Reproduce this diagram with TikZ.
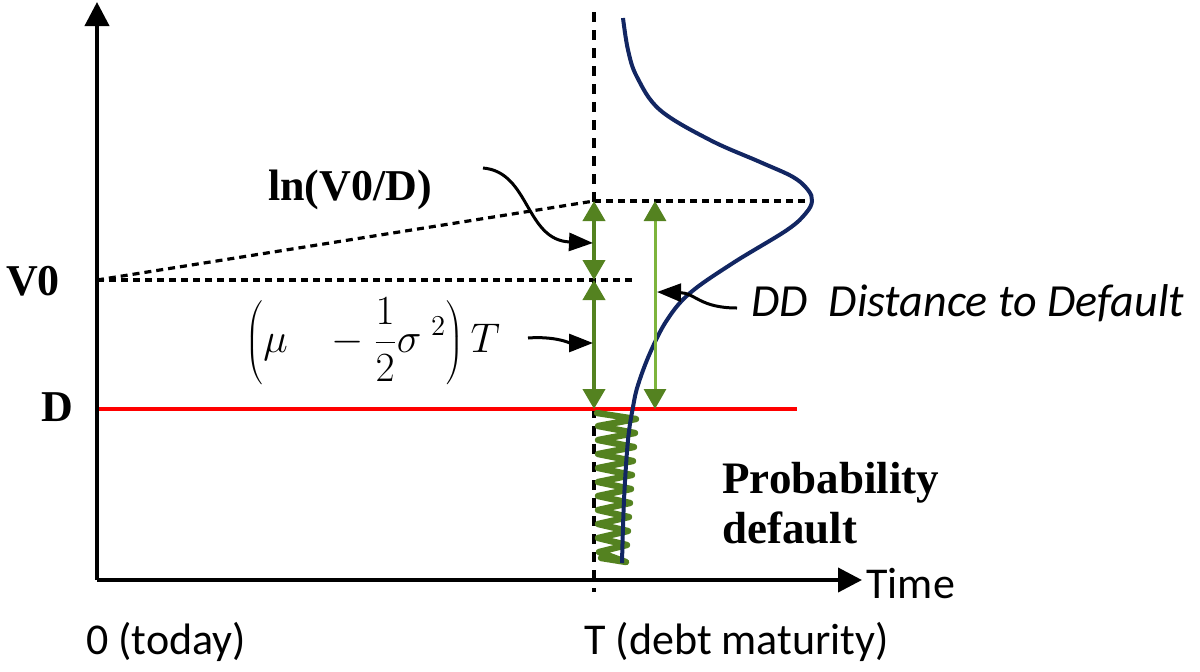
\documentclass[tikz,border=0pt]{standalone}
\usepackage{fontspec}
\setmainfont{Liberation Serif}
\newfontfamily\calfont{Carlito}
\usetikzlibrary{arrows.meta}
\definecolor{gdark}{RGB}{84,130,32}
\definecolor{glight}{RGB}{125,180,60}
\definecolor{navy}{RGB}{18,38,98}
\begin{document}
\begin{tikzpicture}[x=0.5pt,y=-0.5pt,
  axis/.style={line width=2pt,-{Triangle[length=12pt,width=12pt]}},
  dsh/.style={line width=1.6pt,dash pattern=on 3.5pt off 2.5pt},
  vdsh/.style={line width=2pt,dash pattern=on 5pt off 4pt},
  gtip/.tip={Triangle[length=10pt,width=11pt,color=gdark]},
  garrow/.style={line width=2pt,gdark,gtip-gtip},
  glarrow/.style={line width=1.5pt,glight,gtip-gtip},
  carrow/.style={line width=1.5pt,-{Triangle[length=12pt,width=9pt]}},
  lbl/.style={font=\fontsize{22}{26}\selectfont\bfseries, inner sep=0pt},
  sans/.style={font=\fontsize{22}{26}\selectfont\calfont, inner sep=0pt}]
\useasboundingbox (0,0) rectangle (1200,671);

% key coordinates
\coordinate (O) at (97,580);
\coordinate (ytop) at (97,2);
\coordinate (xend) at (862,580);
\coordinate (v0l) at (97,280);
\coordinate (v0r) at (635,280);
\coordinate (tpk) at (594,201);
\coordinate (pk) at (811,201);
\coordinate (tv0) at (594,280);
\coordinate (td) at (594,409);
\coordinate (dpk) at (655,201);
\coordinate (dd) at (655,409);
\coordinate (dl) at (97,409);
\coordinate (dr) at (797,409);
\coordinate (ttop) at (594,12);
\coordinate (tbot) at (594,592);

% dashed guides
\draw[vdsh] (ttop) -- (tbot);
\draw[dsh] (v0l) -- (v0r);
\draw[dsh] (v0l) -- (tpk);
\draw[dsh] (tpk) -- (pk);

% default barrier
\draw[red, line width=2pt] (dl) -- (dr);

% probability of default zigzag
\draw[gdark, line width=3.2pt, line join=round, line cap=round]
  (597,413) -- (636,419) -- (598,426) -- (635,433) -- (598,440) -- (634,447)
  -- (598,454) -- (633,461) -- (598,468) -- (632,475) -- (598,482) -- (631,489)
  -- (598,496) -- (630,503) -- (598,510) -- (629,517) -- (598,524) -- (628,531)
  -- (598,538) -- (627,545) -- (599,552) -- (626,562) -- (601,558);

% distribution curve
\draw[navy, line width=2pt] plot[smooth, tension=0.6] coordinates {
  (623,18) (628,50) (637,77) (660,110) (710,140) (760,162) (793,177)
  (808,190) (812,201) (806,213) (787,230) (733,263) (690,293) (667,320)
  (650,353) (638,385) (633,407) (628,440) (624,500) (622,563)};

% green measurement arrows
\draw[garrow] (tpk) -- (tv0);
\draw[garrow] (tv0) -- (td);
\draw[glarrow] (dpk) -- (dd);

% axes
\draw[axis] (O) -- (ytop);
\draw[axis] (O) -- (xend);

% labels
\node[lbl] (v0lab) at (33,281) {V0};
\node[lbl] (dlab) at (57,407) {D};
\node[lbl] (ln) at (350,190) {ln(V0/D)};
\node[inner sep=0pt, font=\fontsize{20}{24}\selectfont] (form) at (373,341)
  {$\displaystyle\left(\mu\;\;\;-\frac{1}{2}\sigma^{\,\,2}\right)T$};
\node[sans, anchor=west, font=\fontsize{23}{27}\selectfont\calfont\itshape] (ddlab) at (751,303) {DD\ \ Distance to Default};
\node[lbl, anchor=base west, font=\fontsize{22.5}{26}\selectfont\bfseries] (prob1) at (722,493) {Probability};
\node[lbl, anchor=base west, font=\fontsize{22.5}{26}\selectfont\bfseries] (prob2) at (722,543) {default};
\node[sans, anchor=west] (time) at (866,584) {Time};
\node[sans, anchor=west] (today) at (86,642) {0 (today)};
\node[sans, anchor=west] (mat) at (584,642) {T (debt maturity)};

% pointer arrows
\coordinate (lnA) at (483,168);
\coordinate (lnB) at (593,243);
\coordinate (fA) at (528,338);
\coordinate (fB) at (593,343);
\coordinate (dA) at (737,308);
\coordinate (dB) at (657,292);
\draw[carrow] (lnA) .. controls (530,172) and (525,240) .. (lnB);
\draw[carrow] (fA) .. controls (555,336) and (570,343) .. (fB);
\draw[carrow] (dA) .. controls (700,308) and (695,293) .. (dB);
\end{tikzpicture}
\end{document}
